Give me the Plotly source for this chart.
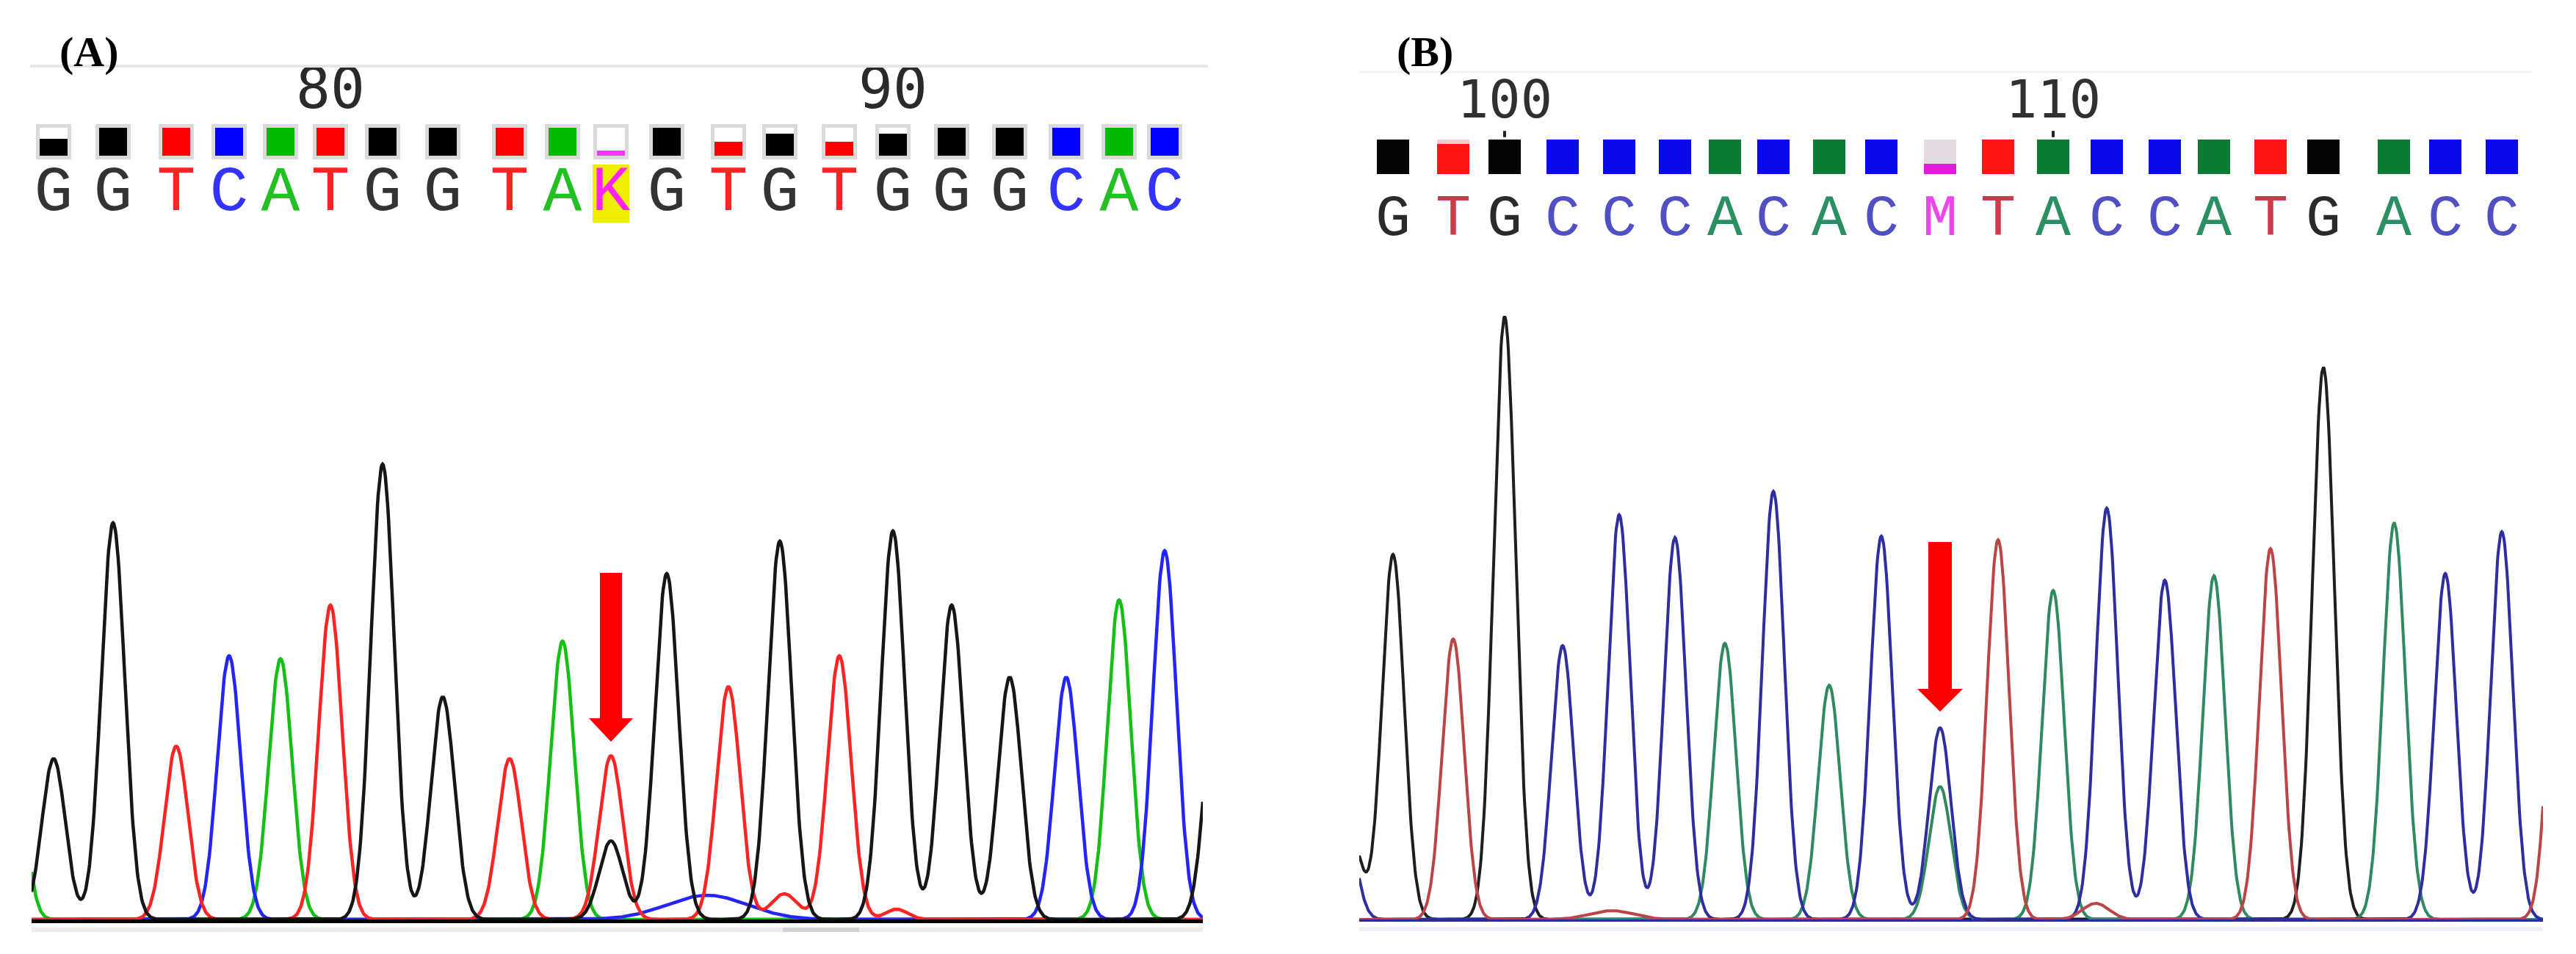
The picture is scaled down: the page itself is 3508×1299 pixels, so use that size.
import numpy as np
import plotly.graph_objects as go

W, H = 3508, 1299

# ---------------- Panel (A) data ----------------
A_SEQ = list("GGTCATGGTAKGTGTGGGCAC")
A_BASE_X = [65, 146, 232, 304, 374, 442, 513, 595, 686, 758, 824, 900, 984,
            1054, 1135, 1208, 1288, 1367, 1444, 1516, 1578]
A_QUAL = [0.6, 1, 1, 1, 1, 1, 1, 1, 1, 1, 0.17, 1, 0.5, 0.78, 0.5, 0.78,
          1, 1, 1, 1, 1]
A_FIRST_POS = 75
A_TICKS = [80, 90]

A_PEAK_X = [14, 65, 146, 232, 304, 374, 442, 513, 595, 686, 758, 824, 824,
            900, 984, 1054, 1135, 1208, 1288, 1367, 1444, 1516, 1578, 1650,
            955, 1060, 1213]
A_PEAK_H = [200, 219, 540, 236, 359, 355, 428, 620, 303, 219, 379, 223, 107,
            471, 317, 515, 359, 529, 428, 330, 330, 435, 502, 350,
            33, 35, 14]
A_PEAK_CH = ['A', 'G', 'G', 'T', 'C', 'A', 'T', 'G', 'G', 'T', 'A', 'T', 'G',
             'G', 'T', 'G', 'T', 'G', 'G', 'G', 'C', 'A', 'C', 'G',
             'C', 'T', 'T']
A_PEAK_SD = [14, 16, 16, 16, 16, 16, 16, 16, 16, 16, 16, 16, 16,
             16, 16, 16, 16, 16, 16, 16, 16, 16, 16, 16,
             55, 18, 15]

# ---------------- Panel (B) data ----------------
B_SEQ = list("GTGCCCACACMTACCATGACC")
B_BASE_X = [1889, 1971, 2041, 2120, 2197, 2273, 2341, 2407, 2483, 2554, 2634,
            2713, 2788, 2861, 2940, 3007, 3084, 3156, 3252, 3322, 3399]
B_QUAL = [1, 0.86, 1, 1, 1, 1, 1, 1, 1, 1, 0.3, 1, 1, 1, 1, 1, 1, 1, 1, 1, 1]
B_FIRST_POS = 98
B_TICKS = [100, 110]

B_PEAK_X = [1822, 1830, 1889, 1971, 2041, 2120, 2197, 2273, 2341, 2407, 2483,
            2554, 2634, 2634, 2713, 2788, 2861, 2940, 3007, 3084, 3156, 3252,
            3322, 3399, 3478, 2187, 2846, 3268]
B_PEAK_H = [150, 120, 497, 382, 821, 373, 551, 520, 376, 583, 319,
            522, 261, 181, 517, 448, 560, 462, 468, 505, 752, 528,
            471, 528, 500, 12, 22, 22]
B_PEAK_CH = ['C', 'G', 'G', 'T', 'G', 'C', 'C', 'C', 'A', 'C', 'A',
             'C', 'C', 'A', 'T', 'A', 'C', 'C', 'A', 'T', 'G', 'A',
             'C', 'C', 'T', 'T', 'T', 'A']
B_PEAK_SD = [15, 15, 15, 15, 15, 15, 15, 15, 15, 15, 15,
             15, 15, 15, 15, 15, 15, 15, 15, 15, 15, 15,
             15, 15, 15, 30, 18, 14]

# ---------------- styles ----------------
A_TRACE_COL = {'G': '#161616', 'A': '#14c014', 'T': '#ff2424', 'C': '#2424ff'}
A_BAR_COL = {'G': '#000000', 'A': '#00bb00', 'T': '#ff0000', 'C': '#0000ff',
             'K': '#ff33ff'}
A_TXT_COL = {'G': '#333333', 'A': '#22c022', 'T': '#ff2222', 'C': '#3333ff',
             'K': '#ff22ff'}
B_TRACE_COL = {'G': '#1e1e1e', 'A': '#2f8a60', 'T': '#bd4444', 'C': '#2e2ea2'}
B_BAR_COL = {'G': '#050505', 'A': '#0b7a32', 'T': '#ff1414', 'C': '#0a0ae8',
             'M': '#e01ee0'}
B_BAR_BG = {'T': '#f5cccc', 'M': '#e2dbe2'}
B_TXT_COL = {'G': '#2a2a2a', 'A': '#2a9062', 'T': '#cc3a4c', 'C': '#5050c4',
             'M': '#ee44ee'}


def xdom(left, right):
    return [left / W, right / W]


def ydom(bottom, top):
    return [1 - bottom / H, 1 - top / H]


def signal(xg, px, ph, psd, pch, ch):
    y = np.zeros_like(xg, dtype=float)
    for x0, h, sd, c in zip(px, ph, psd, pch):
        if c == ch:
            y += h * np.exp(-0.5 * ((xg - x0) / sd) ** 2)
    return y


fig = go.Figure()

A_XR = [35, 1630]
B_XR = [1843, 3455]

# ---------- chromatogram traces ----------
xa = np.arange(A_XR[0], A_XR[1] + 1, 1.0)
A_SIG = {}
for ch in ['A', 'C', 'T', 'G']:
    A_SIG[ch] = signal(xa, A_PEAK_X, A_PEAK_H, A_PEAK_SD, A_PEAK_CH, ch)
    fig.add_trace(go.Scatter(x=xa, y=A_SIG[ch], mode='lines',
                             line=dict(color=A_TRACE_COL[ch], width=4.5),
                             xaxis='x', yaxis='y', hoverinfo='skip'))

xb = np.arange(B_XR[0], B_XR[1] + 1, 1.0)
B_SIG = {}
for ch in ['G', 'A', 'C', 'T']:
    B_SIG[ch] = signal(xb, B_PEAK_X, B_PEAK_H, B_PEAK_SD, B_PEAK_CH, ch)
    fig.add_trace(go.Scatter(x=xb, y=B_SIG[ch], mode='lines',
                             line=dict(color=B_TRACE_COL[ch], width=4),
                             xaxis='x2', yaxis='y8', hoverinfo='skip'))


# ---------- red arrows above the ambiguous (heterozygous) peak ----------
def arrow(xg, sig, seq, base_x, xaxis, yaxis, shaft, head, head_len, gap, length):
    idx = [i for i, c in enumerate(seq) if c not in 'ACGT'][0]
    x0 = base_x[idx]
    k = int(np.argmin(np.abs(xg - x0)))
    tip = max(s[k] for s in sig.values()) + gap
    hb = tip + head_len
    top = tip + length
    xs = [x0 - shaft / 2, x0 + shaft / 2, x0 + shaft / 2, x0 + head / 2, x0,
          x0 - head / 2, x0 - shaft / 2, x0 - shaft / 2]
    ys = [top, top, hb, hb, tip, hb, hb, top]
    fig.add_trace(go.Scatter(x=xs, y=ys, mode='lines', fill='toself',
                             fillcolor='#ff0000', line=dict(width=0, color='#ff0000'),
                             xaxis=xaxis, yaxis=yaxis, hoverinfo='skip'))


arrow(xa, A_SIG, A_SEQ, A_BASE_X, 'x', 'y', 30, 60, 32, 19, 230)
arrow(xb, B_SIG, B_SEQ, B_BASE_X, 'x2', 'y8', 32, 62, 31, 22, 231)

# ---------- quality bars (A) ----------
nA = len(A_SEQ)
fig.add_trace(go.Bar(x=A_BASE_X, y=[1 + 10 / 38] * nA, base=[-5 / 38] * nA,
                     width=48, marker=dict(color='#dadada', line=dict(width=0)),
                     xaxis='x', yaxis='y2', hoverinfo='skip'))
fig.add_trace(go.Bar(x=A_BASE_X, y=[1] * nA, base=[0] * nA, width=38,
                     marker=dict(color='#ffffff', line=dict(width=0)),
                     xaxis='x', yaxis='y2', hoverinfo='skip'))
fig.add_trace(go.Bar(x=A_BASE_X, y=A_QUAL, base=[0] * nA, width=38,
                     marker=dict(color=[A_BAR_COL[c] for c in A_SEQ], line=dict(width=0)),
                     xaxis='x', yaxis='y2', hoverinfo='skip'))

# ---------- highlight + letters (A) ----------
hiA = [i for i, c in enumerate(A_SEQ) if c not in 'ACGT']
fig.add_trace(go.Bar(x=[A_BASE_X[i] for i in hiA], y=[2] * len(hiA),
                     base=[-1] * len(hiA), width=50,
                     marker=dict(color='#eeee00', line=dict(width=0)),
                     xaxis='x', yaxis='y3', hoverinfo='skip'))
fig.add_trace(go.Scatter(x=A_BASE_X, y=[0] * nA, mode='text', text=A_SEQ,
                         textfont=dict(family='Liberation Mono', size=88,
                                       color=[A_TXT_COL[c] for c in A_SEQ]),
                         textposition='middle center', cliponaxis=False,
                         xaxis='x', yaxis='y3', hoverinfo='skip'))
fig.add_trace(go.Scatter(x=[A_BASE_X[t - A_FIRST_POS] for t in A_TICKS],
                         y=[0] * len(A_TICKS), mode='text',
                         text=[str(t) for t in A_TICKS],
                         textfont=dict(family='DejaVu Sans Mono', size=78, color='#2a2a2a'),
                         textposition='middle center', cliponaxis=False,
                         xaxis='x', yaxis='y4', hoverinfo='skip'))

# ---------- quality bars (B) ----------
nB = len(B_SEQ)
fig.add_trace(go.Bar(x=B_BASE_X, y=[1] * nB, base=[0] * nB, width=44,
                     marker=dict(color=[B_BAR_BG.get(c, '#e6e6e6') for c in B_SEQ],
                                 line=dict(width=0)),
                     xaxis='x2', yaxis='y5', hoverinfo='skip'))
fig.add_trace(go.Bar(x=B_BASE_X, y=B_QUAL, base=[0] * nB, width=44,
                     marker=dict(color=[B_BAR_COL[c] for c in B_SEQ], line=dict(width=0)),
                     xaxis='x2', yaxis='y5', hoverinfo='skip'))
fig.add_trace(go.Scatter(x=[B_BASE_X[t - B_FIRST_POS] for t in B_TICKS],
                         y=[1.19] * len(B_TICKS), mode='markers',
                         marker=dict(symbol='line-ns', size=8,
                                     line=dict(width=4, color='#222222')),
                         xaxis='x2', yaxis='y5', hoverinfo='skip'))

# ---------- letters (B) ----------
fig.add_trace(go.Scatter(x=B_BASE_X, y=[0] * nB, mode='text', text=B_SEQ,
                         textfont=dict(family='Liberation Mono', size=80,
                                       color=[B_TXT_COL[c] for c in B_SEQ]),
                         textposition='middle center', cliponaxis=False,
                         xaxis='x2', yaxis='y6', hoverinfo='skip'))
fig.add_trace(go.Scatter(x=[B_BASE_X[t - B_FIRST_POS] for t in B_TICKS],
                         y=[0] * len(B_TICKS), mode='text',
                         text=[str(t) for t in B_TICKS],
                         textfont=dict(family='DejaVu Sans Mono', size=72, color='#303030'),
                         textposition='middle center', cliponaxis=False,
                         xaxis='x2', yaxis='y7', hoverinfo='skip'))

hidden = dict(visible=False, showgrid=False, zeroline=False, fixedrange=True)

fig.update_layout(
    width=W, height=H,
    margin=dict(l=0, r=0, t=0, b=0),
    paper_bgcolor='white', plot_bgcolor='rgba(0,0,0,0)',
    showlegend=False, barmode='overlay', bargap=0,
    xaxis=dict(domain=xdom(*A_XR), range=A_XR, anchor='y', showline=True,
               linewidth=5, linecolor='#000000', showticklabels=False, ticks='',
               showgrid=False, zeroline=False, fixedrange=True),
    yaxis=dict(domain=ydom(1244, 379), range=[0, 865], anchor='x', **hidden),
    xaxis2=dict(domain=xdom(*B_XR), range=B_XR, anchor='y8', showline=True,
                linewidth=3, linecolor='#2a2a9a', showticklabels=False, ticks='',
                showgrid=False, zeroline=False, fixedrange=True),
    yaxis8=dict(domain=ydom(1244, 379), range=[0, 865], anchor='x2', **hidden),
    yaxis2=dict(domain=ydom(212.5, 155.5), range=[-0.25, 1.25], anchor='x', **hidden),
    yaxis3=dict(domain=ydom(295, 216), range=[-1, 1], anchor='x', **hidden),
    yaxis4=dict(domain=ydom(150, 88), range=[-1, 1], anchor='x', **hidden),
    yaxis5=dict(domain=ydom(240.75, 170.25), range=[-0.25, 1.25], anchor='x2', **hidden),
    yaxis6=dict(domain=ydom(322, 262), range=[-1, 1], anchor='x2', **hidden),
    yaxis7=dict(domain=ydom(164, 104), range=[-1, 1], anchor='x2', **hidden),
    annotations=[
        dict(text='<b>(A)</b>', x=71 / W, y=1 - 62 / H, xref='paper', yref='paper',
             xanchor='left', yanchor='middle', showarrow=False,
             font=dict(family='Liberation Serif', size=58, color='#000000')),
        dict(text='<b>(B)</b>', x=1892 / W, y=1 - 62 / H, xref='paper', yref='paper',
             xanchor='left', yanchor='middle', showarrow=False,
             font=dict(family='Liberation Serif', size=58, color='#000000')),
    ],
    shapes=[
        dict(type='line', xref='paper', yref='paper', x0=33 / W, x1=1637 / W,
             y0=1 - 82 / H, y1=1 - 82 / H, line=dict(color='#e6e6e6', width=4)),
        dict(type='line', xref='paper', yref='paper', x0=1843 / W, x1=3440 / W,
             y0=1 - 90 / H, y1=1 - 90 / H, line=dict(color='#f3f3f3', width=3)),
        dict(type='line', xref='paper', yref='paper', x0=35 / W, x1=1630 / W,
             y0=1 - 1258 / H, y1=1 - 1258 / H, line=dict(color='#ececec', width=6)),
        dict(type='line', xref='paper', yref='paper', x0=1058 / W, x1=1162 / W,
             y0=1 - 1258 / H, y1=1 - 1258 / H, line=dict(color='#d2d2d2', width=6)),
        dict(type='line', xref='paper', yref='paper', x0=1843 / W, x1=3455 / W,
             y0=1 - 1257 / H, y1=1 - 1257 / H, line=dict(color='#eef2f6', width=6)),
    ],
)

fig.write_html("out.html")
